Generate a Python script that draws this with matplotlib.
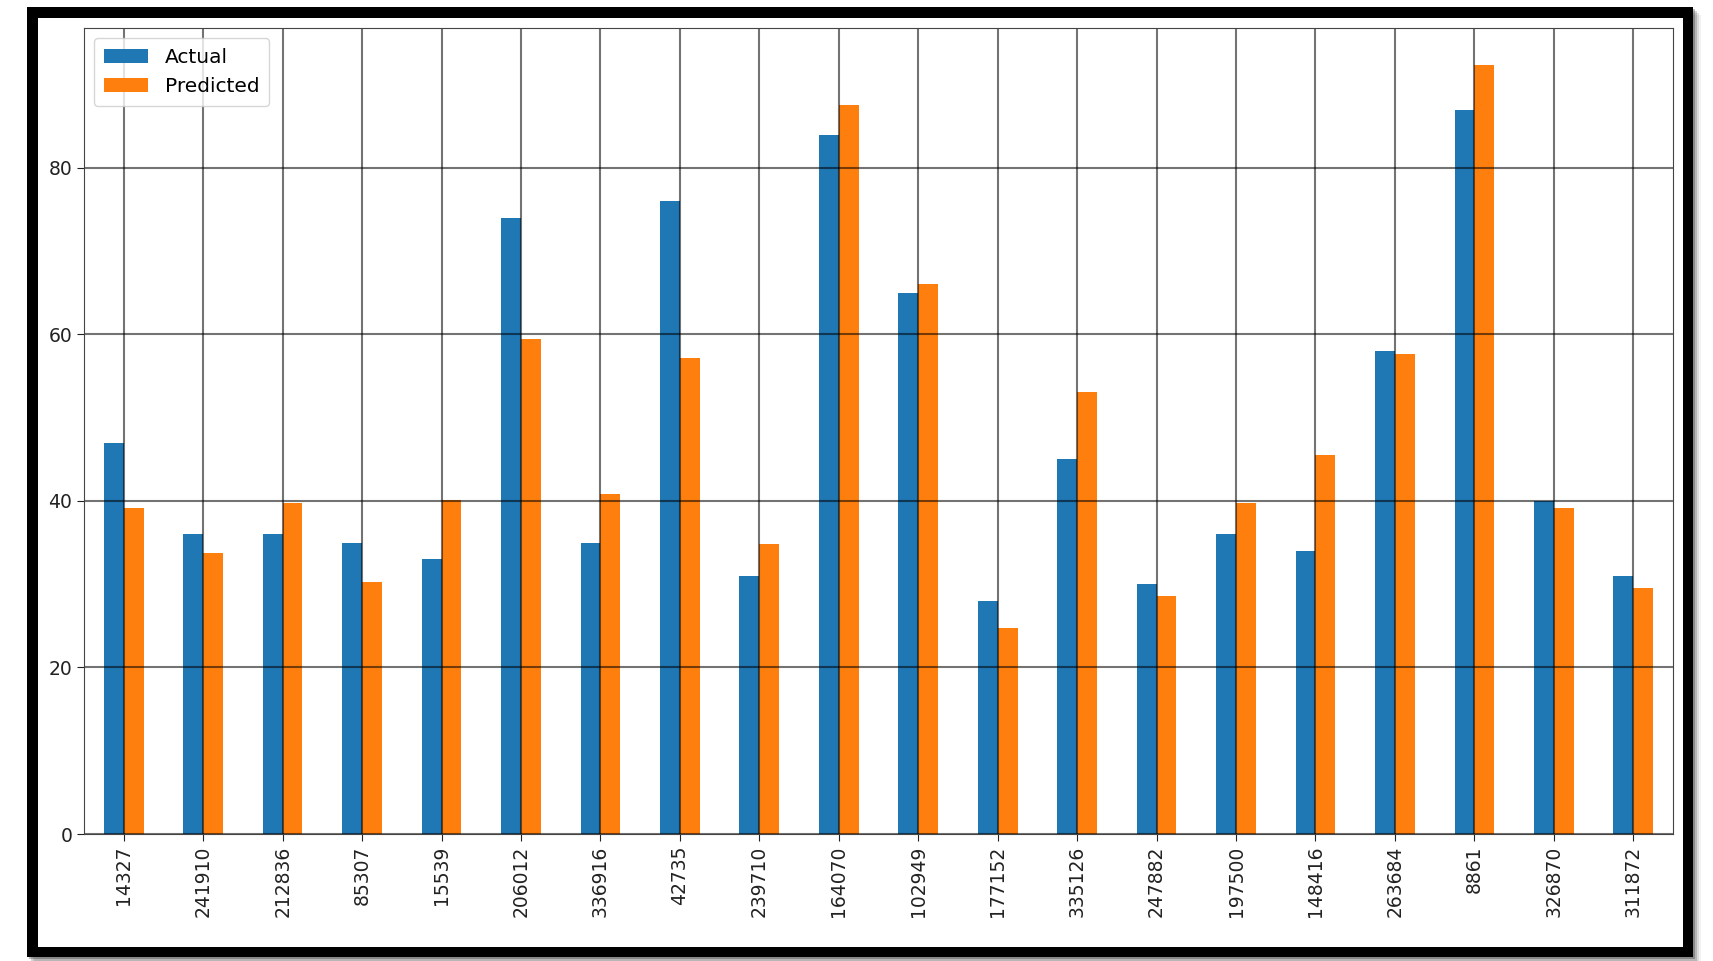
import numpy as np
import pandas as pd
import matplotlib
matplotlib.use('Agg')
import matplotlib.pyplot as plt
from matplotlib.patches import Rectangle

ids = ['14327', '241910', '212836', '85307', '15539', '206012', '336916', '42735',
       '239710', '164070', '102949', '177152', '335126', '247882', '197500',
       '148416', '263684', '8861', '326870', '311872']
actual = [47, 36, 36, 35, 33, 74, 35, 76, 31, 84, 65, 28, 45, 30, 36, 34, 58, 87, 40, 31]
predicted = [39.2, 33.8, 39.7, 30.3, 40.1, 59.4, 40.8, 57.2, 34.8, 87.5, 66.1, 24.8,
             53.1, 28.6, 39.7, 45.5, 57.7, 92.3, 39.1, 29.5]

out_file = 'out.png'
W, H = 1713.0, 961.0

df = pd.DataFrame({'Actual': actual, 'Predicted': predicted}, index=ids)

fig = plt.figure(figsize=(17.13, 9.61), dpi=100)


def px_rect(x0, y0, x1, y1, **kw):
    # rectangle given in pixel coords, y measured from the top
    return Rectangle((x0 / W, 1 - y1 / H), (x1 - x0) / W, (y1 - y0) / H,
                     transform=fig.transFigure, **kw)


# black screenshot frame with a soft shadow on the right/bottom
for k, a in [(8, 0.05), (6, 0.10), (4, 0.16), (2, 0.25)]:
    fig.patches.append(px_rect(27 + k, 7 + k, 1693 + k, 957 + k, facecolor='k',
                               edgecolor='none', alpha=a, zorder=-3))
fig.patches.append(px_rect(27, 7, 1693, 957, facecolor='k', edgecolor='none', zorder=-2))
fig.patches.append(px_rect(38, 18, 1683, 947, facecolor='white', edgecolor='none', zorder=-1))

ax = fig.add_axes([84 / W, 1 - 834 / H, (1673 - 84) / W, (834 - 28) / H])
df.plot(kind='bar', ax=ax, color=['#1f77b4', '#ff7f0e'], legend=False)

ax.grid(True, color='k', alpha=0.55, linewidth=1.5)
ax.set_yticks([0, 20, 40, 60, 80])
ax.tick_params(labelsize=13.5, length=5, colors='#222222')
for lbl in ax.get_xticklabels():
    lbl.set_rotation(90)
ax.set_xlim(-0.5, len(ids) - 0.5)
ax.set_ylim(0, 96.8)
for s in ax.spines.values():
    s.set_color('#444444')
ax.legend(loc='upper left', fontsize=14.5, handlelength=2.2, borderpad=0.5)

fig.savefig(out_file, dpi=100)
